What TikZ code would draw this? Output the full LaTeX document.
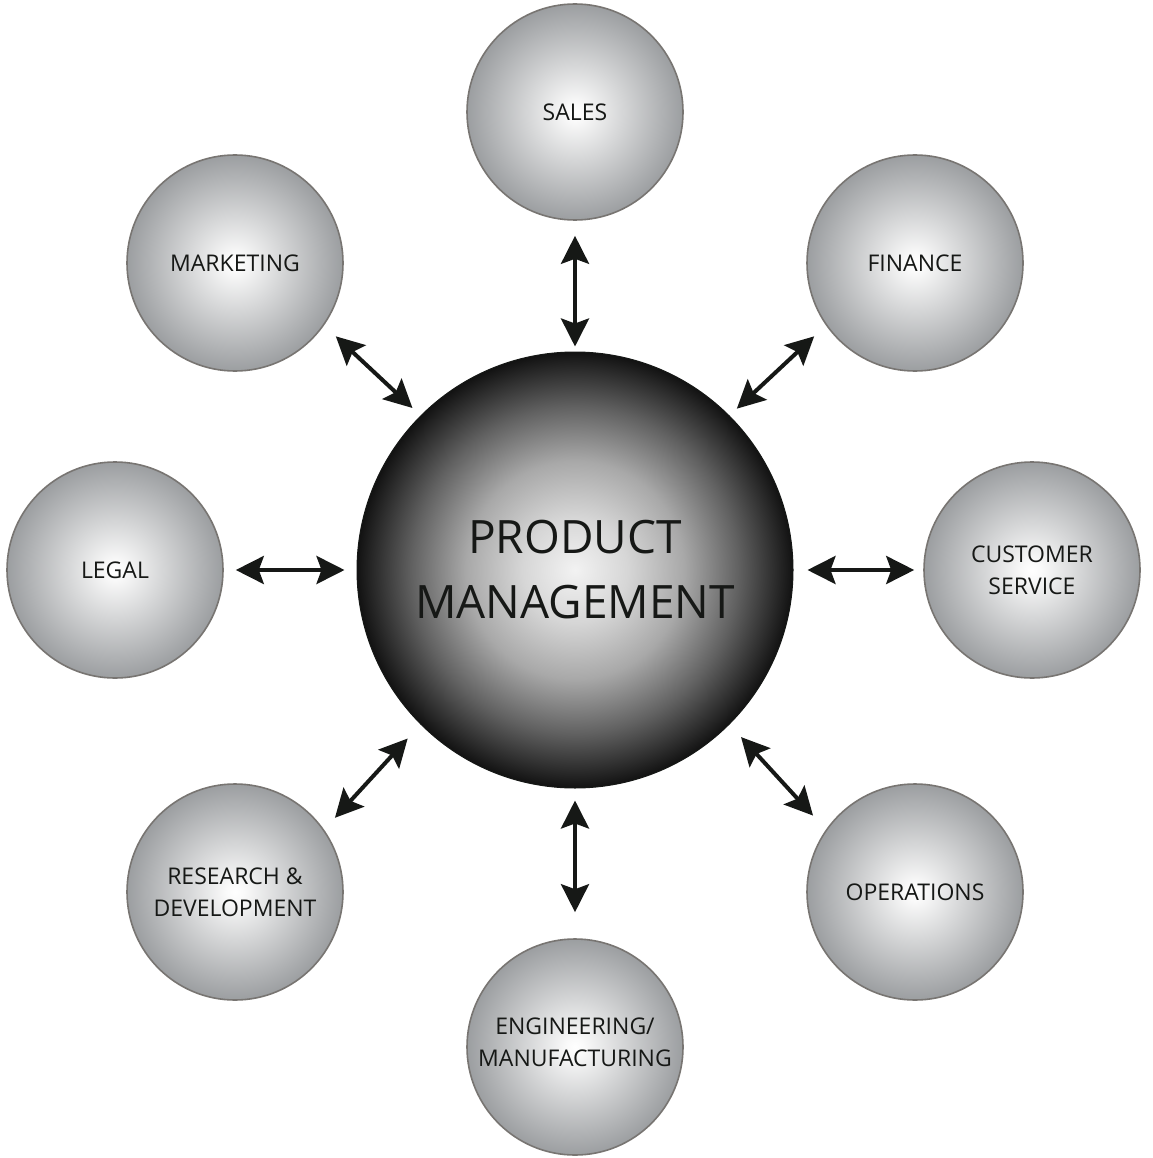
\documentclass[tikz,border=0pt]{standalone}
\usepackage{fontspec}
\setmainfont{Open Sans}
\usetikzlibrary{arrows.meta}
\definecolor{rimgray}{RGB}{120,117,114}
\definecolor{inkblack}{RGB}{22,24,22}
\pgfdeclareradialshading{outerball}{\pgfpoint{0bp}{0bp}}{rgb(0bp)=(1,1,1); rgb(2bp)=(0.98,0.98,0.98); rgb(25bp)=(0.61,0.62,0.63); rgb(50bp)=(0.61,0.62,0.63)}
\pgfdeclareradialshading{centerball}{\pgfpoint{0bp}{0bp}}{rgb(0bp)=(0.95,0.95,0.95); rgb(6bp)=(0.84,0.84,0.84); rgb(12.5bp)=(0.66,0.66,0.66); rgb(18.75bp)=(0.38,0.38,0.38); rgb(23bp)=(0.17,0.17,0.17); rgb(25bp)=(0.07,0.07,0.07); rgb(50bp)=(0.07,0.07,0.07)}
\tikzset{
  dept/.style={circle, minimum size=216pt, inner sep=0pt, draw=rimgray, line width=1.6pt,
    shade, shading=outerball, text=inkblack, align=center, font=\fontsize{23}{32}\selectfont},
  core/.style={circle, minimum size=436pt, inner sep=0pt, draw=inkblack, line width=1pt,
    shade, shading=centerball, text=inkblack, align=center, font=\fontsize{46}{65}\selectfont},
  link/.style={line width=4pt, draw=inkblack,
    {Stealth[length=28pt,width=28pt,inset=5pt]}-{Stealth[length=28pt,width=28pt,inset=5pt]}}
}
\begin{document}
\begin{tikzpicture}[x=1pt,y=-1pt]
\useasboundingbox (0,0) rectangle (1152,1158);
\node[core] (pm) at (575,570) {PRODUCT\\MANAGEMENT};
\node[dept] (sales) at (575,112) {SALES};
\node[dept] (mkt) at (235,263) {MARKETING};
\node[dept] (fin) at (915,263) {FINANCE};
\node[dept] (legal) at (115,570) {LEGAL};
\node[dept] (cs) at (1032,570) {CUSTOMER\\SERVICE};
\node[dept] (rd) at (235,892) {RESEARCH \&\\DEVELOPMENT};
\node[dept] (ops) at (915,892) {OPERATIONS};
\node[dept, text depth=10pt] (eng) at (575,1047) {ENGINEERING/\\MANUFACTURING};
\draw[link, shorten <=15pt, shorten >=5pt] (sales.south) -- (pm.north);
\draw[link, shorten <=12pt, shorten >=12pt] (legal.east) -- (pm.west);
\draw[link, shorten <=14pt, shorten >=9pt] (pm.east) -- (cs.west);
\draw[link, shorten <=12pt, shorten >=26pt] (pm.south) -- (eng.north);
\draw[link, shorten <=16pt, shorten >=11pt] (mkt.-35) -- (pm.135);
\draw[link, shorten <=16pt, shorten >=10pt] (fin.-145) -- (pm.45);
\draw[link, shorten <=16pt, shorten >=19pt] (rd.35) -- (pm.-135);
\draw[link, shorten <=19pt, shorten >=17pt] (ops.145) -- (pm.-45);
\end{tikzpicture}
\end{document}
